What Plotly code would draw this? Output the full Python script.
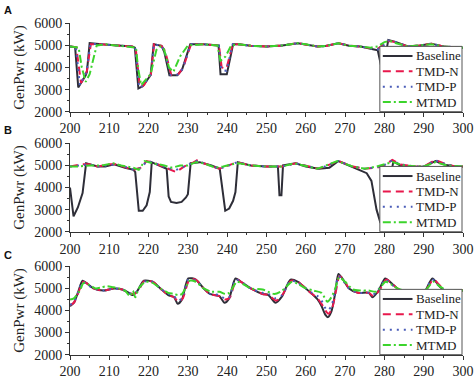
import plotly.graph_objects as go

# ---------------- Panel A ----------------
a_base_t = [200, 201.3, 202.1, 203.0, 204.0, 204.3, 205.0, 208, 212, 215.8, 216.5, 217.4, 218.5, 220.5, 221.3,
            223.3, 224.0, 225.3, 227.3, 228.5, 230.6, 234, 237.8, 238.3, 239.9, 241.5, 243, 246, 250, 254, 258,
            260, 263, 265, 268.3, 271, 274, 276.5, 278.3, 279.5, 280.3, 281.0, 283, 286, 289, 292, 295, 298, 300]
a_base_v = [4950, 4920, 3100, 3350, 3650, 3800, 5100, 5050, 5000, 4950, 4900, 3050, 3150, 3650, 5050,
            4980, 4700, 3650, 3650, 3900, 5050, 5050, 5000, 3700, 3700, 5050, 5050, 4980, 4950, 5000, 5100,
            5050, 4950, 4970, 5100, 4990, 4950, 4850, 4780, 3800, 4600, 5250, 5150, 4950, 5000, 5080, 4950, 4900, 4900]

a_tmdn_t = [200, 201.6, 202.8, 203.5, 204.3, 205.3, 208, 212, 215.8, 216.7, 217.8, 218.8, 220.6, 221.4,
            223.3, 224.2, 225.8, 227.6, 228.8, 230.8, 234, 237.9, 238.6, 239.8, 241.4, 243, 246, 250, 254, 258,
            260, 263, 265, 268.3, 271, 274, 276.5, 278.3, 279.5, 281.0, 283, 286, 289, 292, 295, 298, 300]
a_tmdn_v = [4950, 4920, 3300, 3500, 3850, 5050, 5050, 5000, 4950, 4900, 3100, 3200, 3700, 5050,
            4980, 4750, 3650, 3700, 4000, 5050, 5050, 5000, 4000, 3950, 5050, 5050, 4980, 4950, 5000, 5100,
            5050, 4950, 4970, 5100, 4990, 4950, 4870, 4850, 5000, 5200, 5150, 4950, 5000, 5080, 4950, 4900, 4900]

a_tmdp_t = [200, 201.5, 202.5, 203.3, 204.2, 205.2, 208, 212, 215.8, 216.6, 217.6, 218.6, 220.6, 221.3,
            223.3, 224.1, 225.6, 227.5, 228.7, 230.7, 234, 237.9, 238.5, 239.8, 241.4, 243, 246, 250, 254, 258,
            260, 263, 265, 268.3, 271, 274, 276.5, 278.3, 279.5, 281.0, 283, 286, 289, 292, 295, 298, 300]
a_tmdp_v = [4950, 4920, 3200, 3450, 3800, 5080, 5050, 5000, 4950, 4900, 3080, 3180, 3680, 5050,
            4980, 4720, 3650, 3680, 3950, 5050, 5050, 5000, 3900, 3850, 5050, 5050, 4980, 4950, 5000, 5100,
            5050, 4950, 4970, 5100, 4990, 4950, 4860, 4820, 4950, 5220, 5150, 4950, 5000, 5080, 4950, 4900, 4900]

a_mtmd_t = [200, 202.2, 203.0, 204.0, 205.0, 206.8, 209, 212, 215.8, 216.8, 217.3, 218.1, 220.5, 222.0, 223.0,
            223.8, 225.2, 226.3, 228.0, 230.0, 234, 237.5, 238.3, 239.6, 241.0, 243, 246, 250, 254, 258,
            260, 263, 265, 268.3, 271, 274, 276.5, 278.3, 280.0, 281.5, 283, 286, 289, 292, 295, 298, 300]
a_mtmd_v = [4950, 4900, 4000, 3350, 3700, 5000, 5050, 5000, 4950, 4900, 4000, 3200, 3700, 4800, 4950,
            4900, 4000, 3800, 4500, 5000, 5050, 5000, 4300, 4500, 5000, 5050, 4980, 4950, 5000, 5100,
            5050, 4950, 4970, 5100, 4990, 4950, 4900, 4950, 5150, 5200, 5100, 4950, 5000, 5050, 4950, 4900, 4900]

# ---------------- Panel B ----------------
b_base_t = [200, 200.9, 202.0, 203.2, 204.1, 207, 209, 211.2, 214, 216.2, 216.6, 217.5, 218.5, 219.5, 220.3, 220.8,
            222, 224.6, 225.1, 225.7, 227.1, 228.4, 229.5, 230.0, 230.7, 233, 236, 238.1, 239.5, 240.5, 241.5,
            242.1, 242.7, 246, 250, 252.9, 253.3, 253.8, 254.2, 257.4, 260, 263.3, 266, 268.3, 271, 274.2, 275.5,
            276.7, 278.0, 279.0, 280.5, 282.3, 284, 287, 290, 293, 295, 298, 300]
b_base_v = [4000, 2700, 3100, 3750, 5100, 4950, 4950, 5050, 4900, 4800, 4700, 2950, 2950, 3200, 3800, 5150,
            5050, 4850, 3600, 3350, 3300, 3350, 3550, 3700, 5100, 5150, 5000, 4850, 2950, 3050, 3400,
            3800, 5150, 5000, 4950, 4950, 3650, 3650, 5000, 5100, 4950, 4850, 4900, 5200, 5000, 4750, 4650,
            4300, 3000, 2400, 3500, 5200, 5000, 4900, 4950, 5200, 5050, 4950, 4950]

b_tmdn_t = [200, 203, 205, 207, 210, 212, 216, 218, 219.5, 221, 223, 225, 227, 229, 231, 232.5, 234, 238, 241, 242.5,
            246, 250, 253, 254, 257.4, 263.3, 268.3, 272, 275, 278, 280, 282, 284, 288, 290, 293, 295, 298, 300]
b_tmdn_v = [4950, 5050, 5050, 4950, 5050, 5050, 4800, 4900, 5200, 5150, 5000, 4850, 4700, 4950, 5100, 5250, 5100,
            4850, 5050, 5150, 5000, 4950, 4950, 4950, 5100, 4850, 5200, 4950, 4850, 4900, 5000, 5250, 5050, 4950,
            4950, 5250, 5100, 4950, 4950]

b_tmdp_t = [200, 203, 205, 207, 210, 212, 216, 218, 219.5, 221, 223, 225, 227, 229, 231, 232.5, 234, 238, 241, 242.5,
            246, 250, 253, 254, 257.4, 263.3, 268.3, 272, 275, 278, 280, 282, 284, 288, 290, 293, 295, 298, 300]
b_tmdp_v = [4950, 5030, 5050, 4950, 5030, 5050, 4820, 4880, 5180, 5150, 5000, 4880, 4800, 4950, 5100, 5220, 5100,
            4850, 5030, 5150, 5000, 4950, 4950, 4950, 5100, 4850, 5200, 4950, 4850, 4920, 5020, 5230, 5050, 4950,
            4950, 5230, 5100, 4950, 4950]

b_mtmd_t = [200, 202, 205, 208, 211, 213, 216, 217.5, 219, 221, 224, 226, 228, 230, 232, 234, 237, 239, 241, 243,
            246, 250, 254, 257, 263, 268, 272, 275, 278, 280, 282, 285, 290, 293, 296, 300]
b_mtmd_v = [4950, 4950, 5000, 5000, 5100, 5000, 4900, 4800, 5200, 5100, 5000, 4900, 5000, 5000, 5150, 5100, 4900,
            4950, 5050, 5100, 5000, 4950, 4950, 5100, 4850, 5200, 4950, 4850, 4950, 5050, 5150, 5000, 4950, 5150,
            5000, 4950]

# ---------------- Panel C ----------------
c_base_t = [200, 201, 202, 203.2, 204.5, 206, 208.5, 211.2, 213.3, 215, 215.8, 217, 218.8, 221, 223, 225, 226.5,
            227.4, 228.5, 230.1, 232, 234, 235.6, 238, 239.3, 240.5, 242.1, 243.5, 246, 249, 250.5, 252.3, 254,
            256.1, 258, 260, 261.6, 263, 264, 265, 265.6, 266.5, 267.5, 268.3, 269.5, 271, 273.3, 276, 277, 278.5,
            280.2, 282, 284, 287, 290, 292.2, 294, 296, 298, 300]
c_base_v = [4200, 4350, 4800, 5350, 5200, 5000, 4900, 5000, 4950, 4800, 4700, 4850, 5350, 5300, 5000, 4700, 4600,
            4300, 4500, 5450, 5400, 5000, 4750, 4650, 4350, 4550, 5450, 5300, 5000, 4750, 4700, 4350, 4650,
            5400, 5300, 5000, 4750, 4500, 4200, 3800, 3700, 3950, 4800, 5650, 5400, 5000, 4800, 4800, 4600, 4900,
            5450, 5200, 4900, 4750, 4800, 5450, 5100, 4800, 4900, 4900]

c_tmdn_t = [200, 201, 202, 203.4, 204.5, 206, 208.5, 211.2, 213.3, 215, 216, 217.2, 219, 221, 223, 225, 226.5,
            227.6, 228.7, 230.4, 232, 234, 235.6, 238, 239.5, 240.7, 242.3, 243.5, 246, 249, 250.5, 252.5, 254,
            256.3, 258, 260, 261.6, 263, 264, 265.2, 265.8, 266.7, 267.7, 268.6, 269.7, 271, 273.3, 276, 277.2,
            278.7, 280.5, 282, 284, 287, 290, 292.5, 294, 296, 298, 300]
c_tmdn_v = [4250, 4350, 4750, 5300, 5200, 5000, 4900, 5000, 4950, 4800, 4750, 4850, 5350, 5300, 5000, 4700, 4600,
            4400, 4550, 5400, 5400, 5000, 4750, 4650, 4500, 4600, 5400, 5300, 5000, 4750, 4700, 4450, 4700,
            5350, 5300, 5000, 4750, 4550, 4300, 3950, 3850, 4100, 4900, 5550, 5400, 5000, 4800, 4800, 4650,
            4900, 5400, 5200, 4900, 4750, 4800, 5400, 5150, 4800, 4900, 4900]

c_tmdp_t = list(c_base_t)
c_tmdp_v = [4250, 4400, 4800, 5300, 5150, 5000, 4900, 5000, 4950, 4800, 4750, 4850, 5300, 5300, 5000, 4750, 4650,
            4450, 4550, 5400, 5350, 5000, 4750, 4700, 4550, 4600, 5400, 5300, 5000, 4800, 4750, 4550, 4700,
            5350, 5250, 5000, 4800, 4650, 4450, 4100, 4000, 4200, 4900, 5550, 5350, 5000, 4800, 4800, 4700, 4950,
            5400, 5150, 4900, 4800, 4850, 5400, 5100, 4850, 4900, 4900]

c_mtmd_t = [200, 201, 202.5, 203.5, 205, 206.5, 208, 209.5, 211, 212.5, 214, 215.3, 216, 216.6, 217.5, 219.2, 221,
            223, 225, 226.5, 227.5, 228.5, 230.5, 232, 234, 236, 238, 239.5, 240.5, 242.5, 244, 246, 249, 252,
            254, 256.5, 258, 260, 262, 264, 265.5, 266.5, 267.5, 268.5, 270, 272, 274, 276, 278, 280.3, 282, 284,
            287, 290, 292.5, 294, 296, 298, 300]
c_mtmd_v = [4500, 4550, 4900, 5250, 5150, 5000, 5050, 5100, 5050, 5000, 4900, 4650, 4900, 4600, 5000, 5300, 5250,
            5000, 4800, 4750, 4700, 4750, 5350, 5300, 5000, 4850, 4850, 4750, 4800, 5300, 5200, 5000, 4950, 4750,
            4900, 5300, 5200, 5000, 4900, 4800, 4400, 4600, 5000, 5500, 5300, 4950, 4900, 4900, 4850, 5300, 5150,
            4950, 4850, 4850, 5300, 5100, 4900, 4900, 4900]

series_names = ["Baseline", "TMD-N", "TMD-P", "MTMD"]
panel_labels = ["A", "B", "C"]
x_ticks = [200, 210, 220, 230, 240, 250, 260, 270, 280, 290, 300]
y_ticks = [2000, 3000, 4000, 5000, 6000]

panels = [
    [(a_base_t, a_base_v), (a_tmdn_t, a_tmdn_v), (a_tmdp_t, a_tmdp_v), (a_mtmd_t, a_mtmd_v)],
    [(b_base_t, b_base_v), (b_tmdn_t, b_tmdn_v), (b_tmdp_t, b_tmdp_v), (b_mtmd_t, b_mtmd_v)],
    [(c_base_t, c_base_v), (c_tmdn_t, c_tmdn_v), (c_tmdp_t, c_tmdp_v), (c_mtmd_t, c_mtmd_v)],
]
for p in panels:
    for t, v in p:
        assert len(t) == len(v), (len(t), len(v))

colors = ["#2e2e38", "#e8184c", "#4a5cb8", "#3cd42c"]
dashes = ["solid", "8px,5px", "2px,5px", "8px,3px,2px,3px"]
widths = [2, 2, 2, 2]

W, H = 474, 379
L, R = 70, 7
PW = W - L - R
# pixel rows of each panel (top=6000, bottom=2000)
rows_px = [(17, 109), (142, 234), (270, 362)]


def px_x(px):
    return (px - L) / PW


def px_y(py):
    return 1 - py / H


fig = go.Figure()
serif = "Liberation Serif"
layout = dict(
    width=W, height=H, margin=dict(l=L, r=R, t=0, b=0),
    paper_bgcolor="white", plot_bgcolor="white", showlegend=False,
    font=dict(family=serif, size=14, color="#222"),
)
annotations = []
shapes = []
for i, p in enumerate(panels):
    suffix = "" if i == 0 else str(i + 1)
    xa, ya = "x" + suffix, "y" + suffix
    smooth = (i == 2)
    for j, (t, v) in enumerate(p):
        fig.add_trace(go.Scatter(
            x=t, y=v, mode="lines", name=series_names[j], xaxis=xa, yaxis=ya,
            line=dict(color=colors[j], width=widths[j], dash=dashes[j],
                      shape="spline" if smooth else "linear", smoothing=0.7 if smooth else None),
        ))
    top, bot = rows_px[i]
    dom = [px_y(bot), px_y(top)]
    layout["xaxis" + suffix] = dict(
        domain=[0, 1], anchor=ya, range=[200, 300], tickvals=x_ticks, ticks="outside", ticklen=4,
        tickwidth=1, tickcolor="#333", showline=True, linecolor="#333", linewidth=1, showgrid=False,
        zeroline=False, tickfont=dict(family=serif, size=14, color="#222"), ticklabeloverflow="allow",
        minor=dict(ticks="outside", ticklen=2, dtick=5, tick0=200, tickcolor="#333"),
    )
    layout["yaxis" + suffix] = dict(
        domain=dom, anchor=xa, range=[2000, 6000], tickvals=y_ticks, ticks="outside", ticklen=4,
        tickwidth=1, tickcolor="#333", showline=True, linecolor="#333", linewidth=1, showgrid=False,
        zeroline=False, tickfont=dict(family=serif, size=14, color="#222"), ticklabeloverflow="allow",
        minor=dict(ticks="outside", ticklen=2, dtick=500, tick0=2000, tickcolor="#333"),
        title=dict(text="GenPwr (kW)", font=dict(family=serif, size=15, color="#222"), standoff=5),
    )
    # legend box (drawn manually for compact spacing)
    box_top = top + 24
    shapes.append(dict(type="rect", xref="paper", yref="paper",
                       x0=px_x(383), x1=px_x(466), y0=px_y(bot), y1=px_y(box_top),
                       fillcolor="white", line=dict(color="#555", width=1), layer="above"))
    for j in range(4):
        ey = box_top + 10 + 16 * j
        shapes.append(dict(type="line", xref="paper", yref="paper",
                           x0=px_x(386), x1=px_x(416), y0=px_y(ey), y1=px_y(ey),
                           line=dict(color=colors[j], width=2, dash=dashes[j]), layer="above"))
        annotations.append(dict(
            text=series_names[j], x=px_x(418), y=px_y(ey), xref="paper", yref="paper",
            xanchor="left", yanchor="middle", showarrow=False,
            font=dict(family=serif, size=13, color="#222"),
        ))
    lab_y = [3, 128, 258][i]
    annotations.append(dict(
        text="<b>%s</b>" % panel_labels[i], x=px_x(1), y=px_y(lab_y), xref="paper", yref="paper",
        xanchor="left", yanchor="middle", showarrow=False,
        font=dict(family="Liberation Sans", size=11, color="#111"),
    ))
layout["annotations"] = annotations
layout["shapes"] = shapes
fig.update_layout(**layout)
fig.write_html("out.html", config={"displayModeBar": False},
               post_script="document.body.style.margin='0';document.body.style.overflow='hidden';")
